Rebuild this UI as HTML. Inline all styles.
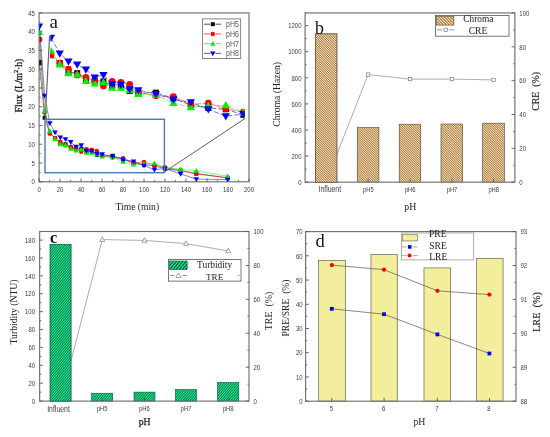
<!DOCTYPE html>
<html lang="en"><head><meta charset="utf-8"><title>Figure</title>
<style>html,body{margin:0;padding:0;background:#fff;}svg{display:block;}</style></head><body>
<svg width="550" height="437" viewBox="0 0 550 437">
<rect width="550" height="437" fill="#ffffff"/>
<defs>
<pattern id="hb" width="1.5" height="1.5" patternUnits="userSpaceOnUse" patternTransform="rotate(-36)"><rect width="1.5" height="1.5" fill="#fbd69c"/><rect width="0.62" height="1.5" fill="#6f4e2e"/></pattern>
<pattern id="hc" width="1.8" height="1.8" patternUnits="userSpaceOnUse" patternTransform="rotate(39.5)"><rect width="1.8" height="1.8" fill="#10e890"/><rect width="0.66" height="1.8" fill="#0a5c3c"/></pattern>
<clipPath id="clipA"><rect x="39.3" y="12.95" width="209.6" height="168.8"/></clipPath>
<clipPath id="clipIn"><rect x="50.3" y="20" width="194.4" height="105"/></clipPath>
</defs>
<rect x="39.1" y="12.95" width="209.9" height="168.8" fill="none" stroke="#888888" stroke-width="1.4"/>
<line x1="39.1" y1="181.75" x2="42.4" y2="181.75" stroke="#5a5a5a" stroke-width="0.9" />
<text transform="translate(34.8,184.45) scale(0.80,1)" font-size="7.5" text-anchor="end" font-family='"Liberation Sans", sans-serif' fill="#3c3c3c" font-weight="normal" >0</text>
<line x1="39.1" y1="172.37" x2="40.7" y2="172.37" stroke="#5a5a5a" stroke-width="0.9" />
<line x1="39.1" y1="162.99" x2="42.4" y2="162.99" stroke="#5a5a5a" stroke-width="0.9" />
<text transform="translate(34.8,165.69) scale(0.80,1)" font-size="7.5" text-anchor="end" font-family='"Liberation Sans", sans-serif' fill="#3c3c3c" font-weight="normal" >5</text>
<line x1="39.1" y1="153.62" x2="40.7" y2="153.62" stroke="#5a5a5a" stroke-width="0.9" />
<line x1="39.1" y1="144.24" x2="42.4" y2="144.24" stroke="#5a5a5a" stroke-width="0.9" />
<text transform="translate(34.8,146.94) scale(0.80,1)" font-size="7.5" text-anchor="end" font-family='"Liberation Sans", sans-serif' fill="#3c3c3c" font-weight="normal" >10</text>
<line x1="39.1" y1="134.86" x2="40.7" y2="134.86" stroke="#5a5a5a" stroke-width="0.9" />
<line x1="39.1" y1="125.48" x2="42.4" y2="125.48" stroke="#5a5a5a" stroke-width="0.9" />
<text transform="translate(34.8,128.18) scale(0.80,1)" font-size="7.5" text-anchor="end" font-family='"Liberation Sans", sans-serif' fill="#3c3c3c" font-weight="normal" >15</text>
<line x1="39.1" y1="116.11" x2="40.7" y2="116.11" stroke="#5a5a5a" stroke-width="0.9" />
<line x1="39.1" y1="106.73" x2="42.4" y2="106.73" stroke="#5a5a5a" stroke-width="0.9" />
<text transform="translate(34.8,109.43) scale(0.80,1)" font-size="7.5" text-anchor="end" font-family='"Liberation Sans", sans-serif' fill="#3c3c3c" font-weight="normal" >20</text>
<line x1="39.1" y1="97.35" x2="40.7" y2="97.35" stroke="#5a5a5a" stroke-width="0.9" />
<line x1="39.1" y1="87.97" x2="42.4" y2="87.97" stroke="#5a5a5a" stroke-width="0.9" />
<text transform="translate(34.8,90.67) scale(0.80,1)" font-size="7.5" text-anchor="end" font-family='"Liberation Sans", sans-serif' fill="#3c3c3c" font-weight="normal" >25</text>
<line x1="39.1" y1="78.59" x2="40.7" y2="78.59" stroke="#5a5a5a" stroke-width="0.9" />
<line x1="39.1" y1="69.22" x2="42.4" y2="69.22" stroke="#5a5a5a" stroke-width="0.9" />
<text transform="translate(34.8,71.92) scale(0.80,1)" font-size="7.5" text-anchor="end" font-family='"Liberation Sans", sans-serif' fill="#3c3c3c" font-weight="normal" >30</text>
<line x1="39.1" y1="59.84" x2="40.7" y2="59.84" stroke="#5a5a5a" stroke-width="0.9" />
<line x1="39.1" y1="50.46" x2="42.4" y2="50.46" stroke="#5a5a5a" stroke-width="0.9" />
<text transform="translate(34.8,53.16) scale(0.80,1)" font-size="7.5" text-anchor="end" font-family='"Liberation Sans", sans-serif' fill="#3c3c3c" font-weight="normal" >35</text>
<line x1="39.1" y1="41.08" x2="40.7" y2="41.08" stroke="#5a5a5a" stroke-width="0.9" />
<line x1="39.1" y1="31.71" x2="42.4" y2="31.71" stroke="#5a5a5a" stroke-width="0.9" />
<text transform="translate(34.8,34.41) scale(0.80,1)" font-size="7.5" text-anchor="end" font-family='"Liberation Sans", sans-serif' fill="#3c3c3c" font-weight="normal" >40</text>
<line x1="39.1" y1="22.33" x2="40.7" y2="22.33" stroke="#5a5a5a" stroke-width="0.9" />
<line x1="39.1" y1="12.95" x2="42.4" y2="12.95" stroke="#5a5a5a" stroke-width="0.9" />
<text transform="translate(34.8,15.65) scale(0.80,1)" font-size="7.5" text-anchor="end" font-family='"Liberation Sans", sans-serif' fill="#3c3c3c" font-weight="normal" >45</text>
<line x1="39.1" y1="181.75" x2="39.1" y2="178.45" stroke="#5a5a5a" stroke-width="0.9" />
<text transform="translate(39.1,191.6) scale(0.80,1)" font-size="7.5" text-anchor="middle" font-family='"Liberation Sans", sans-serif' fill="#3c3c3c" font-weight="normal" >0</text>
<line x1="49.59" y1="181.75" x2="49.59" y2="180.15" stroke="#5a5a5a" stroke-width="0.9" />
<line x1="60.09" y1="181.75" x2="60.09" y2="178.45" stroke="#5a5a5a" stroke-width="0.9" />
<text transform="translate(60.09,191.6) scale(0.80,1)" font-size="7.5" text-anchor="middle" font-family='"Liberation Sans", sans-serif' fill="#3c3c3c" font-weight="normal" >20</text>
<line x1="70.59" y1="181.75" x2="70.59" y2="180.15" stroke="#5a5a5a" stroke-width="0.9" />
<line x1="81.08" y1="181.75" x2="81.08" y2="178.45" stroke="#5a5a5a" stroke-width="0.9" />
<text transform="translate(81.08,191.6) scale(0.80,1)" font-size="7.5" text-anchor="middle" font-family='"Liberation Sans", sans-serif' fill="#3c3c3c" font-weight="normal" >40</text>
<line x1="91.58" y1="181.75" x2="91.58" y2="180.15" stroke="#5a5a5a" stroke-width="0.9" />
<line x1="102.07" y1="181.75" x2="102.07" y2="178.45" stroke="#5a5a5a" stroke-width="0.9" />
<text transform="translate(102.07,191.6) scale(0.80,1)" font-size="7.5" text-anchor="middle" font-family='"Liberation Sans", sans-serif' fill="#3c3c3c" font-weight="normal" >60</text>
<line x1="112.57" y1="181.75" x2="112.57" y2="180.15" stroke="#5a5a5a" stroke-width="0.9" />
<line x1="123.06" y1="181.75" x2="123.06" y2="178.45" stroke="#5a5a5a" stroke-width="0.9" />
<text transform="translate(123.06,191.6) scale(0.80,1)" font-size="7.5" text-anchor="middle" font-family='"Liberation Sans", sans-serif' fill="#3c3c3c" font-weight="normal" >80</text>
<line x1="133.56" y1="181.75" x2="133.56" y2="180.15" stroke="#5a5a5a" stroke-width="0.9" />
<line x1="144.05" y1="181.75" x2="144.05" y2="178.45" stroke="#5a5a5a" stroke-width="0.9" />
<text transform="translate(144.05,191.6) scale(0.80,1)" font-size="7.5" text-anchor="middle" font-family='"Liberation Sans", sans-serif' fill="#3c3c3c" font-weight="normal" >100</text>
<line x1="154.55" y1="181.75" x2="154.55" y2="180.15" stroke="#5a5a5a" stroke-width="0.9" />
<line x1="165.04" y1="181.75" x2="165.04" y2="178.45" stroke="#5a5a5a" stroke-width="0.9" />
<text transform="translate(165.04,191.6) scale(0.80,1)" font-size="7.5" text-anchor="middle" font-family='"Liberation Sans", sans-serif' fill="#3c3c3c" font-weight="normal" >120</text>
<line x1="175.54" y1="181.75" x2="175.54" y2="180.15" stroke="#5a5a5a" stroke-width="0.9" />
<line x1="186.03" y1="181.75" x2="186.03" y2="178.45" stroke="#5a5a5a" stroke-width="0.9" />
<text transform="translate(186.03,191.6) scale(0.80,1)" font-size="7.5" text-anchor="middle" font-family='"Liberation Sans", sans-serif' fill="#3c3c3c" font-weight="normal" >140</text>
<line x1="196.53" y1="181.75" x2="196.53" y2="180.15" stroke="#5a5a5a" stroke-width="0.9" />
<line x1="207.02" y1="181.75" x2="207.02" y2="178.45" stroke="#5a5a5a" stroke-width="0.9" />
<text transform="translate(207.02,191.6) scale(0.80,1)" font-size="7.5" text-anchor="middle" font-family='"Liberation Sans", sans-serif' fill="#3c3c3c" font-weight="normal" >160</text>
<line x1="217.52" y1="181.75" x2="217.52" y2="180.15" stroke="#5a5a5a" stroke-width="0.9" />
<line x1="228.01" y1="181.75" x2="228.01" y2="178.45" stroke="#5a5a5a" stroke-width="0.9" />
<text transform="translate(228.01,191.6) scale(0.80,1)" font-size="7.5" text-anchor="middle" font-family='"Liberation Sans", sans-serif' fill="#3c3c3c" font-weight="normal" >180</text>
<line x1="238.51" y1="181.75" x2="238.51" y2="180.15" stroke="#5a5a5a" stroke-width="0.9" />
<line x1="249" y1="181.75" x2="249" y2="178.45" stroke="#5a5a5a" stroke-width="0.9" />
<text transform="translate(249,191.6) scale(0.80,1)" font-size="7.5" text-anchor="middle" font-family='"Liberation Sans", sans-serif' fill="#3c3c3c" font-weight="normal" >200</text>
<text x="137.3" y="210.2" font-size="9.6" text-anchor="middle" font-family='"Liberation Serif", serif' fill="#222" font-weight="normal" >Time (min)</text>
<text transform="translate(21.6,85.6) rotate(-90)" font-size="9.7" text-anchor="middle" font-family='"Liberation Serif", serif' fill="#222" font-weight="normal" stroke="#222" stroke-width="0.3">Flux (L/m<tspan font-size="5.6" dy="-3.4">2</tspan><tspan dy="3.4">·h)</tspan></text>
<text x="49.5" y="27.7" font-size="19" text-anchor="start" font-family='"Liberation Serif", serif' fill="#111" font-weight="normal" >a</text>
<g clip-path="url(#clipA)">
<polyline fill="none" stroke="#000000" stroke-width="0.5" points="39.4,62.6 44.63,117.8 49.86,133.25 55.09,138.22 60.32,143.72 65.55,144.26 70.78,147.69 76.01,148.58 81.24,149.11 86.47,151.83 91.7,151.54 96.93,154.85 102.16,155.98 112.62,155.74 123.08,159.23 133.54,163.08 144,164.86 154.46,165.63 164.92,168.88 180.61,170.5 196.3,173.5 227.68,177.9"/>
<rect x="36.71" y="59.91" width="5.38" height="5.38" fill="#000000"/>
<rect x="42.66" y="115.83" width="3.95" height="3.95" fill="#000000"/>
<rect x="47.89" y="131.27" width="3.95" height="3.95" fill="#000000"/>
<rect x="53.12" y="136.24" width="3.95" height="3.95" fill="#000000"/>
<rect x="58.35" y="141.75" width="3.95" height="3.95" fill="#000000"/>
<rect x="63.58" y="142.28" width="3.95" height="3.95" fill="#000000"/>
<rect x="68.81" y="145.72" width="3.95" height="3.95" fill="#000000"/>
<rect x="74.04" y="146.6" width="3.95" height="3.95" fill="#000000"/>
<rect x="79.27" y="147.14" width="3.95" height="3.95" fill="#000000"/>
<rect x="84.5" y="149.86" width="3.95" height="3.95" fill="#000000"/>
<rect x="89.73" y="149.56" width="3.95" height="3.95" fill="#000000"/>
<rect x="94.96" y="152.88" width="3.95" height="3.95" fill="#000000"/>
<rect x="100.19" y="154" width="3.95" height="3.95" fill="#000000"/>
<rect x="110.65" y="153.77" width="3.95" height="3.95" fill="#000000"/>
<rect x="121.11" y="157.26" width="3.95" height="3.95" fill="#000000"/>
<rect x="131.57" y="161.11" width="3.95" height="3.95" fill="#000000"/>
<rect x="142.03" y="162.88" width="3.95" height="3.95" fill="#000000"/>
<rect x="152.49" y="163.65" width="3.95" height="3.95" fill="#000000"/>
<rect x="162.95" y="166.91" width="3.95" height="3.95" fill="#000000"/>
<rect x="178.64" y="168.53" width="3.95" height="3.95" fill="#000000"/>
<rect x="194.33" y="171.53" width="3.95" height="3.95" fill="#000000"/>
<rect x="225.71" y="175.93" width="3.95" height="3.95" fill="#000000"/>
<polyline fill="none" stroke="#ff0000" stroke-width="0.5" points="39.4,39.6 44.63,112.5 49.86,133.6 55.09,138.22 60.32,141.77 65.55,145.32 70.78,146.74 76.01,149.11 81.24,151.83 86.47,149.11 91.7,149.64 96.93,150.89 102.16,155.74 112.62,157.58 123.08,158.11 133.54,162.73 144,162.02 154.46,165.21 164.92,167.23 180.61,170.8 196.3,173.9 227.68,177.9"/>
<circle cx="39.4" cy="39.6" r="3.01" fill="#ff0000"/>
<circle cx="44.63" cy="112.5" r="2.21" fill="#ff0000"/>
<circle cx="49.86" cy="133.6" r="2.21" fill="#ff0000"/>
<circle cx="55.09" cy="138.22" r="2.21" fill="#ff0000"/>
<circle cx="60.32" cy="141.77" r="2.21" fill="#ff0000"/>
<circle cx="65.55" cy="145.32" r="2.21" fill="#ff0000"/>
<circle cx="70.78" cy="146.74" r="2.21" fill="#ff0000"/>
<circle cx="76.01" cy="149.11" r="2.21" fill="#ff0000"/>
<circle cx="81.24" cy="151.83" r="2.21" fill="#ff0000"/>
<circle cx="86.47" cy="149.11" r="2.21" fill="#ff0000"/>
<circle cx="91.7" cy="149.64" r="2.21" fill="#ff0000"/>
<circle cx="96.93" cy="150.89" r="2.21" fill="#ff0000"/>
<circle cx="102.16" cy="155.74" r="2.21" fill="#ff0000"/>
<circle cx="112.62" cy="157.58" r="2.21" fill="#ff0000"/>
<circle cx="123.08" cy="158.11" r="2.21" fill="#ff0000"/>
<circle cx="133.54" cy="162.73" r="2.21" fill="#ff0000"/>
<circle cx="144" cy="162.02" r="2.21" fill="#ff0000"/>
<circle cx="154.46" cy="165.21" r="2.21" fill="#ff0000"/>
<circle cx="164.92" cy="167.23" r="2.21" fill="#ff0000"/>
<circle cx="180.61" cy="170.8" r="2.21" fill="#ff0000"/>
<circle cx="196.3" cy="173.9" r="2.21" fill="#ff0000"/>
<circle cx="227.68" cy="177.9" r="2.21" fill="#ff0000"/>
<polyline fill="none" stroke="#00ee00" stroke-width="0.5" points="39.4,32.3 44.63,111.4 49.86,131.17 55.09,139.05 60.32,144.26 65.55,145.03 70.78,148.87 76.01,150.41 81.24,149.64 86.47,152.9 91.7,152.9 96.93,154.32 102.16,156.51 112.62,157.22 123.08,161.9 133.54,164.44 144,163.62 154.46,163.2 164.92,167.7 180.61,169.2 196.3,170.8 227.68,176.3"/>
<path d="M35.69 34.99L43.11 34.99L39.4 28.46Z" fill="#00ee00"/>
<path d="M41.9 113.37L47.36 113.37L44.63 108.58Z" fill="#00ee00"/>
<path d="M47.13 133.15L52.59 133.15L49.86 128.35Z" fill="#00ee00"/>
<path d="M52.36 141.02L57.82 141.02L55.09 136.23Z" fill="#00ee00"/>
<path d="M57.59 146.23L63.05 146.23L60.32 141.44Z" fill="#00ee00"/>
<path d="M62.82 147L68.28 147L65.55 142.21Z" fill="#00ee00"/>
<path d="M68.05 150.85L73.51 150.85L70.78 146.05Z" fill="#00ee00"/>
<path d="M73.28 152.39L78.74 152.39L76.01 147.59Z" fill="#00ee00"/>
<path d="M78.51 151.62L83.97 151.62L81.24 146.82Z" fill="#00ee00"/>
<path d="M83.74 154.87L89.2 154.87L86.47 150.08Z" fill="#00ee00"/>
<path d="M88.97 154.87L94.43 154.87L91.7 150.08Z" fill="#00ee00"/>
<path d="M94.2 156.29L99.66 156.29L96.93 151.5Z" fill="#00ee00"/>
<path d="M99.43 158.49L104.89 158.49L102.16 153.69Z" fill="#00ee00"/>
<path d="M109.89 159.2L115.35 159.2L112.62 154.4Z" fill="#00ee00"/>
<path d="M120.35 163.87L125.81 163.87L123.08 159.08Z" fill="#00ee00"/>
<path d="M130.81 166.42L136.27 166.42L133.54 161.62Z" fill="#00ee00"/>
<path d="M141.27 165.59L146.73 165.59L144 160.8Z" fill="#00ee00"/>
<path d="M151.73 165.17L157.19 165.17L154.46 160.38Z" fill="#00ee00"/>
<path d="M162.19 169.67L167.65 169.67L164.92 164.88Z" fill="#00ee00"/>
<path d="M177.88 171.17L183.34 171.17L180.61 166.38Z" fill="#00ee00"/>
<path d="M193.57 172.77L199.03 172.77L196.3 167.98Z" fill="#00ee00"/>
<path d="M224.95 178.27L230.41 178.27L227.68 173.48Z" fill="#00ee00"/>
<polyline fill="none" stroke="#0000ff" stroke-width="0.5" points="39.4,26.3 44.63,95.6 49.86,123.3 55.09,132.54 60.32,137.39 65.55,139.17 70.78,142.07 76.01,146.74 81.24,145.32 86.47,150.77 91.7,151.06 96.93,153.79 102.16,154.32 112.62,156.51 123.08,159.77 133.54,161.42 144,165.63 154.46,169.71 164.92,168.47 180.61,173.9 196.3,179.1 227.68,179.6"/>
<path d="M35.69 23.61L43.11 23.61L39.4 30.14Z" fill="#0000ff"/>
<path d="M41.9 93.63L47.36 93.63L44.63 98.42Z" fill="#0000ff"/>
<path d="M47.13 121.33L52.59 121.33L49.86 126.12Z" fill="#0000ff"/>
<path d="M52.36 130.56L57.82 130.56L55.09 135.36Z" fill="#0000ff"/>
<path d="M57.59 135.42L63.05 135.42L60.32 140.21Z" fill="#0000ff"/>
<path d="M62.82 137.19L68.28 137.19L65.55 141.99Z" fill="#0000ff"/>
<path d="M68.05 140.09L73.51 140.09L70.78 144.89Z" fill="#0000ff"/>
<path d="M73.28 144.77L78.74 144.77L76.01 149.56Z" fill="#0000ff"/>
<path d="M78.51 143.35L83.97 143.35L81.24 148.14Z" fill="#0000ff"/>
<path d="M83.74 148.79L89.2 148.79L86.47 153.59Z" fill="#0000ff"/>
<path d="M88.97 149.09L94.43 149.09L91.7 153.88Z" fill="#0000ff"/>
<path d="M94.2 151.81L99.66 151.81L96.93 156.61Z" fill="#0000ff"/>
<path d="M99.43 152.35L104.89 152.35L102.16 157.14Z" fill="#0000ff"/>
<path d="M109.89 154.54L115.35 154.54L112.62 159.33Z" fill="#0000ff"/>
<path d="M120.35 157.79L125.81 157.79L123.08 162.59Z" fill="#0000ff"/>
<path d="M130.81 159.45L136.27 159.45L133.54 164.24Z" fill="#0000ff"/>
<path d="M141.27 163.65L146.73 163.65L144 168.45Z" fill="#0000ff"/>
<path d="M151.73 167.74L157.19 167.74L154.46 172.53Z" fill="#0000ff"/>
<path d="M162.19 166.5L167.65 166.5L164.92 171.29Z" fill="#0000ff"/>
<path d="M177.88 171.93L183.34 171.93L180.61 176.72Z" fill="#0000ff"/>
<path d="M193.57 177.13L199.03 177.13L196.3 181.92Z" fill="#0000ff"/>
<path d="M224.95 177.63L230.41 177.63L227.68 182.42Z" fill="#0000ff"/>
</g>
<g clip-path="url(#clipIn)">
<polyline fill="none" stroke="#000000" stroke-width="0.55" stroke-dasharray="5 2" points="51,54.6 59.74,63 68.48,72.3 77.22,73.2 85.96,79 94.7,80.5 103.44,81.4 112.18,86 120.92,85.5 129.66,91.1 138.4,93 155.88,92.6 173.36,98.5 190.84,105 208.32,108 225.8,109.3 243.28,114.8 269.5,117.53"/>
<rect x="48.02" y="51.62" width="5.96" height="5.96" fill="#000000"/>
<rect x="56.76" y="60.02" width="5.96" height="5.96" fill="#000000"/>
<rect x="65.5" y="69.32" width="5.96" height="5.96" fill="#000000"/>
<rect x="74.24" y="70.22" width="5.96" height="5.96" fill="#000000"/>
<rect x="82.98" y="76.02" width="5.96" height="5.96" fill="#000000"/>
<rect x="91.72" y="77.52" width="5.96" height="5.96" fill="#000000"/>
<rect x="100.46" y="78.42" width="5.96" height="5.96" fill="#000000"/>
<rect x="109.2" y="83.02" width="5.96" height="5.96" fill="#000000"/>
<rect x="117.94" y="82.52" width="5.96" height="5.96" fill="#000000"/>
<rect x="126.68" y="88.12" width="5.96" height="5.96" fill="#000000"/>
<rect x="135.42" y="90.02" width="5.96" height="5.96" fill="#000000"/>
<rect x="152.9" y="89.62" width="5.96" height="5.96" fill="#000000"/>
<rect x="170.38" y="95.52" width="5.96" height="5.96" fill="#000000"/>
<rect x="187.86" y="102.02" width="5.96" height="5.96" fill="#000000"/>
<rect x="205.34" y="105.02" width="5.96" height="5.96" fill="#000000"/>
<rect x="222.82" y="106.32" width="5.96" height="5.96" fill="#000000"/>
<rect x="240.3" y="111.82" width="5.96" height="5.96" fill="#000000"/>
<rect x="266.52" y="114.55" width="5.96" height="5.96" fill="#000000"/>
<polyline fill="none" stroke="#ff0000" stroke-width="0.55" stroke-dasharray="5 2" points="51,55.2 59.74,63 68.48,69 77.22,75 85.96,77.4 94.7,81.4 103.44,86 112.18,81.4 120.92,82.3 129.66,84.4 138.4,92.6 155.88,95.7 173.36,96.6 190.84,104.4 208.32,103.2 225.8,108.6 243.28,112 269.5,118.04"/>
<circle cx="51" cy="55.2" r="3.34" fill="#ff0000"/>
<circle cx="59.74" cy="63" r="3.34" fill="#ff0000"/>
<circle cx="68.48" cy="69" r="3.34" fill="#ff0000"/>
<circle cx="77.22" cy="75" r="3.34" fill="#ff0000"/>
<circle cx="85.96" cy="77.4" r="3.34" fill="#ff0000"/>
<circle cx="94.7" cy="81.4" r="3.34" fill="#ff0000"/>
<circle cx="103.44" cy="86" r="3.34" fill="#ff0000"/>
<circle cx="112.18" cy="81.4" r="3.34" fill="#ff0000"/>
<circle cx="120.92" cy="82.3" r="3.34" fill="#ff0000"/>
<circle cx="129.66" cy="84.4" r="3.34" fill="#ff0000"/>
<circle cx="138.4" cy="92.6" r="3.34" fill="#ff0000"/>
<circle cx="155.88" cy="95.7" r="3.34" fill="#ff0000"/>
<circle cx="173.36" cy="96.6" r="3.34" fill="#ff0000"/>
<circle cx="190.84" cy="104.4" r="3.34" fill="#ff0000"/>
<circle cx="208.32" cy="103.2" r="3.34" fill="#ff0000"/>
<circle cx="225.8" cy="108.6" r="3.34" fill="#ff0000"/>
<circle cx="243.28" cy="112" r="3.34" fill="#ff0000"/>
<circle cx="269.5" cy="118.04" r="3.34" fill="#ff0000"/>
<polyline fill="none" stroke="#00ee00" stroke-width="0.55" stroke-dasharray="5 2" points="51,51.1 59.74,64.4 68.48,73.2 77.22,74.5 85.96,81 94.7,83.6 103.44,82.3 112.18,87.8 120.92,87.8 129.66,90.2 138.4,93.9 155.88,95.1 173.36,103 190.84,107.3 208.32,105.9 225.8,105.2 243.28,112.8 269.5,115.33"/>
<path d="M46.88 54.08L55.12 54.08L51 46.84Z" fill="#00ee00"/>
<path d="M55.62 67.38L63.86 67.38L59.74 60.14Z" fill="#00ee00"/>
<path d="M64.36 76.18L72.6 76.18L68.48 68.94Z" fill="#00ee00"/>
<path d="M73.1 77.48L81.34 77.48L77.22 70.24Z" fill="#00ee00"/>
<path d="M81.84 83.98L90.08 83.98L85.96 76.74Z" fill="#00ee00"/>
<path d="M90.58 86.58L98.82 86.58L94.7 79.34Z" fill="#00ee00"/>
<path d="M99.32 85.28L107.56 85.28L103.44 78.04Z" fill="#00ee00"/>
<path d="M108.06 90.78L116.3 90.78L112.18 83.54Z" fill="#00ee00"/>
<path d="M116.8 90.78L125.04 90.78L120.92 83.54Z" fill="#00ee00"/>
<path d="M125.54 93.18L133.78 93.18L129.66 85.94Z" fill="#00ee00"/>
<path d="M134.28 96.88L142.52 96.88L138.4 89.64Z" fill="#00ee00"/>
<path d="M151.76 98.08L160 98.08L155.88 90.84Z" fill="#00ee00"/>
<path d="M169.24 105.98L177.48 105.98L173.36 98.74Z" fill="#00ee00"/>
<path d="M186.72 110.28L194.96 110.28L190.84 103.04Z" fill="#00ee00"/>
<path d="M204.2 108.88L212.44 108.88L208.32 101.64Z" fill="#00ee00"/>
<path d="M221.68 108.18L229.92 108.18L225.8 100.94Z" fill="#00ee00"/>
<path d="M239.16 115.78L247.4 115.78L243.28 108.54Z" fill="#00ee00"/>
<path d="M265.38 118.32L273.62 118.32L269.5 111.07Z" fill="#00ee00"/>
<polyline fill="none" stroke="#0000ff" stroke-width="0.55" stroke-dasharray="5 2" points="51,37.8 59.74,53.4 68.48,61.6 77.22,64.6 85.96,69.5 94.7,77.4 103.44,75 112.18,84.2 120.92,84.7 129.66,89.3 138.4,90.2 155.88,93.9 173.36,99.4 190.84,102.2 208.32,109.3 225.8,116.2 243.28,114.1 269.5,123.27"/>
<path d="M46.88 34.82L55.12 34.82L51 42.06Z" fill="#0000ff"/>
<path d="M55.62 50.42L63.86 50.42L59.74 57.66Z" fill="#0000ff"/>
<path d="M64.36 58.62L72.6 58.62L68.48 65.86Z" fill="#0000ff"/>
<path d="M73.1 61.62L81.34 61.62L77.22 68.86Z" fill="#0000ff"/>
<path d="M81.84 66.52L90.08 66.52L85.96 73.76Z" fill="#0000ff"/>
<path d="M90.58 74.42L98.82 74.42L94.7 81.66Z" fill="#0000ff"/>
<path d="M99.32 72.02L107.56 72.02L103.44 79.26Z" fill="#0000ff"/>
<path d="M108.06 81.22L116.3 81.22L112.18 88.46Z" fill="#0000ff"/>
<path d="M116.8 81.72L125.04 81.72L120.92 88.96Z" fill="#0000ff"/>
<path d="M125.54 86.32L133.78 86.32L129.66 93.56Z" fill="#0000ff"/>
<path d="M134.28 87.22L142.52 87.22L138.4 94.46Z" fill="#0000ff"/>
<path d="M151.76 90.92L160 90.92L155.88 98.16Z" fill="#0000ff"/>
<path d="M169.24 96.42L177.48 96.42L173.36 103.66Z" fill="#0000ff"/>
<path d="M186.72 99.22L194.96 99.22L190.84 106.46Z" fill="#0000ff"/>
<path d="M204.2 106.32L212.44 106.32L208.32 113.56Z" fill="#0000ff"/>
<path d="M221.68 113.22L229.92 113.22L225.8 120.46Z" fill="#0000ff"/>
<path d="M239.16 111.12L247.4 111.12L243.28 118.36Z" fill="#0000ff"/>
<path d="M265.38 120.29L273.62 120.29L269.5 127.53Z" fill="#0000ff"/>
</g>
<rect x="45.0" y="119.3" width="119.4" height="53.4" fill="none" stroke="#5274b2" stroke-width="1.4"/>
<line x1="45.2" y1="119.3" x2="49.6" y2="35.5" stroke="#666666" stroke-width="1.2" />
<line x1="165" y1="171.6" x2="245.3" y2="118.3" stroke="#4d4d4d" stroke-width="0.9" />
<rect x="202.5" y="18.9" width="38.2" height="39.5" fill="#fff" stroke="#666" stroke-width="0.8"/>
<line x1="204.1" y1="24.2" x2="210.2" y2="24.2" stroke="#000000" stroke-width="0.7" />
<line x1="215.5" y1="24.2" x2="221" y2="24.2" stroke="#000000" stroke-width="0.7" />
<rect x="210.83" y="22.23" width="3.95" height="3.95" fill="#000000"/>
<text transform="translate(226,27.2) scale(0.80,1)" font-size="8.75" text-anchor="start" font-family='"Liberation Sans", sans-serif' fill="#555" font-weight="normal" >pH5</text>
<line x1="204.1" y1="33.93" x2="210.2" y2="33.93" stroke="#ff0000" stroke-width="0.7" />
<line x1="215.5" y1="33.93" x2="221" y2="33.93" stroke="#ff0000" stroke-width="0.7" />
<circle cx="212.8" cy="33.93" r="2.21" fill="#ff0000"/>
<text transform="translate(226,36.93) scale(0.80,1)" font-size="8.75" text-anchor="start" font-family='"Liberation Sans", sans-serif' fill="#555" font-weight="normal" >pH6</text>
<line x1="204.1" y1="43.66" x2="210.2" y2="43.66" stroke="#00ee00" stroke-width="0.7" />
<line x1="215.5" y1="43.66" x2="221" y2="43.66" stroke="#00ee00" stroke-width="0.7" />
<path d="M210.07 45.63L215.53 45.63L212.8 40.84Z" fill="#00ee00"/>
<text transform="translate(226,46.66) scale(0.80,1)" font-size="8.75" text-anchor="start" font-family='"Liberation Sans", sans-serif' fill="#555" font-weight="normal" >pH7</text>
<line x1="204.1" y1="53.39" x2="210.2" y2="53.39" stroke="#0000ff" stroke-width="0.7" />
<line x1="215.5" y1="53.39" x2="221" y2="53.39" stroke="#0000ff" stroke-width="0.7" />
<path d="M210.07 51.42L215.53 51.42L212.8 56.21Z" fill="#0000ff"/>
<text transform="translate(226,56.39) scale(0.80,1)" font-size="8.75" text-anchor="start" font-family='"Liberation Sans", sans-serif' fill="#555" font-weight="normal" >pH8</text>
<clipPath id="hc1"><rect x="315.4" y="33.9" width="21.5" height="148.3"/></clipPath>
<rect x="315.4" y="33.9" width="21.5" height="148.3" fill="#ffdca3"/>
<path clip-path="url(#hc1)" d="M165.6 33.9L313.9 182.2M167.9 33.9L316.2 182.2M170.2 33.9L318.5 182.2M172.5 33.9L320.8 182.2M174.8 33.9L323.1 182.2M177.1 33.9L325.4 182.2M179.4 33.9L327.7 182.2M181.7 33.9L330 182.2M184 33.9L332.3 182.2M186.3 33.9L334.6 182.2M188.6 33.9L336.9 182.2M190.9 33.9L339.2 182.2M193.2 33.9L341.5 182.2M195.5 33.9L343.8 182.2M197.8 33.9L346.1 182.2M200.1 33.9L348.4 182.2M202.4 33.9L350.7 182.2M204.7 33.9L353 182.2M207 33.9L355.3 182.2M209.3 33.9L357.6 182.2M211.6 33.9L359.9 182.2M213.9 33.9L362.2 182.2M216.2 33.9L364.5 182.2M218.5 33.9L366.8 182.2M220.8 33.9L369.1 182.2M223.1 33.9L371.4 182.2M225.4 33.9L373.7 182.2M227.7 33.9L376 182.2M230 33.9L378.3 182.2M232.3 33.9L380.6 182.2M234.6 33.9L382.9 182.2M236.9 33.9L385.2 182.2M239.2 33.9L387.5 182.2M241.5 33.9L389.8 182.2M243.8 33.9L392.1 182.2M246.1 33.9L394.4 182.2M248.4 33.9L396.7 182.2M250.7 33.9L399 182.2M253 33.9L401.3 182.2M255.3 33.9L403.6 182.2M257.6 33.9L405.9 182.2M259.9 33.9L408.2 182.2M262.2 33.9L410.5 182.2M264.5 33.9L412.8 182.2M266.8 33.9L415.1 182.2M269.1 33.9L417.4 182.2M271.4 33.9L419.7 182.2M273.7 33.9L422 182.2M276 33.9L424.3 182.2M278.3 33.9L426.6 182.2M280.6 33.9L428.9 182.2M282.9 33.9L431.2 182.2M285.2 33.9L433.5 182.2M287.5 33.9L435.8 182.2M289.8 33.9L438.1 182.2M292.1 33.9L440.4 182.2M294.4 33.9L442.7 182.2M296.7 33.9L445 182.2M299 33.9L447.3 182.2M301.3 33.9L449.6 182.2M303.6 33.9L451.9 182.2M305.9 33.9L454.2 182.2M308.2 33.9L456.5 182.2M310.5 33.9L458.8 182.2M312.8 33.9L461.1 182.2M315.1 33.9L463.4 182.2M317.4 33.9L465.7 182.2M319.7 33.9L468 182.2M322 33.9L470.3 182.2M324.3 33.9L472.6 182.2M326.6 33.9L474.9 182.2M328.9 33.9L477.2 182.2M331.2 33.9L479.5 182.2M333.5 33.9L481.8 182.2M335.8 33.9L484.1 182.2M338.1 33.9L486.4 182.2" stroke="#64442a" stroke-width="0.71" fill="none"/>
<rect x="315.4" y="33.9" width="21.5" height="148.3" fill="none" stroke="#4e3c2a" stroke-width="0.6"/>
<clipPath id="hc2"><rect x="357.3" y="127.5" width="21.6" height="54.7"/></clipPath>
<rect x="357.3" y="127.5" width="21.6" height="54.7" fill="#ffdca3"/>
<path clip-path="url(#hc2)" d="M301.3 127.5L356 182.2M303.6 127.5L358.3 182.2M305.9 127.5L360.6 182.2M308.2 127.5L362.9 182.2M310.5 127.5L365.2 182.2M312.8 127.5L367.5 182.2M315.1 127.5L369.8 182.2M317.4 127.5L372.1 182.2M319.7 127.5L374.4 182.2M322 127.5L376.7 182.2M324.3 127.5L379 182.2M326.6 127.5L381.3 182.2M328.9 127.5L383.6 182.2M331.2 127.5L385.9 182.2M333.5 127.5L388.2 182.2M335.8 127.5L390.5 182.2M338.1 127.5L392.8 182.2M340.4 127.5L395.1 182.2M342.7 127.5L397.4 182.2M345 127.5L399.7 182.2M347.3 127.5L402 182.2M349.6 127.5L404.3 182.2M351.9 127.5L406.6 182.2M354.2 127.5L408.9 182.2M356.5 127.5L411.2 182.2M358.8 127.5L413.5 182.2M361.1 127.5L415.8 182.2M363.4 127.5L418.1 182.2M365.7 127.5L420.4 182.2M368 127.5L422.7 182.2M370.3 127.5L425 182.2M372.6 127.5L427.3 182.2M374.9 127.5L429.6 182.2M377.2 127.5L431.9 182.2M379.5 127.5L434.2 182.2" stroke="#64442a" stroke-width="0.71" fill="none"/>
<rect x="357.3" y="127.5" width="21.6" height="54.7" fill="none" stroke="#4e3c2a" stroke-width="0.6"/>
<clipPath id="hc3"><rect x="399.2" y="124.2" width="21.4" height="58"/></clipPath>
<rect x="399.2" y="124.2" width="21.4" height="58" fill="#ffdca3"/>
<path clip-path="url(#hc3)" d="M340.4 124.2L398.4 182.2M342.7 124.2L400.7 182.2M345 124.2L403 182.2M347.3 124.2L405.3 182.2M349.6 124.2L407.6 182.2M351.9 124.2L409.9 182.2M354.2 124.2L412.2 182.2M356.5 124.2L414.5 182.2M358.8 124.2L416.8 182.2M361.1 124.2L419.1 182.2M363.4 124.2L421.4 182.2M365.7 124.2L423.7 182.2M368 124.2L426 182.2M370.3 124.2L428.3 182.2M372.6 124.2L430.6 182.2M374.9 124.2L432.9 182.2M377.2 124.2L435.2 182.2M379.5 124.2L437.5 182.2M381.8 124.2L439.8 182.2M384.1 124.2L442.1 182.2M386.4 124.2L444.4 182.2M388.7 124.2L446.7 182.2M391 124.2L449 182.2M393.3 124.2L451.3 182.2M395.6 124.2L453.6 182.2M397.9 124.2L455.9 182.2M400.2 124.2L458.2 182.2M402.5 124.2L460.5 182.2M404.8 124.2L462.8 182.2M407.1 124.2L465.1 182.2M409.4 124.2L467.4 182.2M411.7 124.2L469.7 182.2M414 124.2L472 182.2M416.3 124.2L474.3 182.2M418.6 124.2L476.6 182.2M420.9 124.2L478.9 182.2" stroke="#64442a" stroke-width="0.71" fill="none"/>
<rect x="399.2" y="124.2" width="21.4" height="58" fill="none" stroke="#4e3c2a" stroke-width="0.6"/>
<clipPath id="hc4"><rect x="441" y="124" width="21.6" height="58.2"/></clipPath>
<rect x="441" y="124" width="21.6" height="58.2" fill="#ffdca3"/>
<path clip-path="url(#hc4)" d="M381.8 124L440 182.2M384.1 124L442.3 182.2M386.4 124L444.6 182.2M388.7 124L446.9 182.2M391 124L449.2 182.2M393.3 124L451.5 182.2M395.6 124L453.8 182.2M397.9 124L456.1 182.2M400.2 124L458.4 182.2M402.5 124L460.7 182.2M404.8 124L463 182.2M407.1 124L465.3 182.2M409.4 124L467.6 182.2M411.7 124L469.9 182.2M414 124L472.2 182.2M416.3 124L474.5 182.2M418.6 124L476.8 182.2M420.9 124L479.1 182.2M423.2 124L481.4 182.2M425.5 124L483.7 182.2M427.8 124L486 182.2M430.1 124L488.3 182.2M432.4 124L490.6 182.2M434.7 124L492.9 182.2M437 124L495.2 182.2M439.3 124L497.5 182.2M441.6 124L499.8 182.2M443.9 124L502.1 182.2M446.2 124L504.4 182.2M448.5 124L506.7 182.2M450.8 124L509 182.2M453.1 124L511.3 182.2M455.4 124L513.6 182.2M457.7 124L515.9 182.2M460 124L518.2 182.2M462.3 124L520.5 182.2M464.6 124L522.8 182.2" stroke="#64442a" stroke-width="0.71" fill="none"/>
<rect x="441" y="124" width="21.6" height="58.2" fill="none" stroke="#4e3c2a" stroke-width="0.6"/>
<clipPath id="hc5"><rect x="482.7" y="123.2" width="21.6" height="59"/></clipPath>
<rect x="482.7" y="123.2" width="21.6" height="59" fill="#ffdca3"/>
<path clip-path="url(#hc5)" d="M423.2 123.2L482.2 182.2M425.5 123.2L484.5 182.2M427.8 123.2L486.8 182.2M430.1 123.2L489.1 182.2M432.4 123.2L491.4 182.2M434.7 123.2L493.7 182.2M437 123.2L496 182.2M439.3 123.2L498.3 182.2M441.6 123.2L500.6 182.2M443.9 123.2L502.9 182.2M446.2 123.2L505.2 182.2M448.5 123.2L507.5 182.2M450.8 123.2L509.8 182.2M453.1 123.2L512.1 182.2M455.4 123.2L514.4 182.2M457.7 123.2L516.7 182.2M460 123.2L519 182.2M462.3 123.2L521.3 182.2M464.6 123.2L523.6 182.2M466.9 123.2L525.9 182.2M469.2 123.2L528.2 182.2M471.5 123.2L530.5 182.2M473.8 123.2L532.8 182.2M476.1 123.2L535.1 182.2M478.4 123.2L537.4 182.2M480.7 123.2L539.7 182.2M483 123.2L542 182.2M485.3 123.2L544.3 182.2M487.6 123.2L546.6 182.2M489.9 123.2L548.9 182.2M492.2 123.2L551.2 182.2M494.5 123.2L553.5 182.2M496.8 123.2L555.8 182.2M499.1 123.2L558.1 182.2M501.4 123.2L560.4 182.2M503.7 123.2L562.7 182.2M506 123.2L565 182.2" stroke="#64442a" stroke-width="0.71" fill="none"/>
<rect x="482.7" y="123.2" width="21.6" height="59" fill="none" stroke="#4e3c2a" stroke-width="0.6"/>
<rect x="305.1" y="12.95" width="209.75" height="169.25" fill="none" stroke="#888888" stroke-width="1.4"/>
<line x1="305.1" y1="182.2" x2="308.4" y2="182.2" stroke="#5a5a5a" stroke-width="0.9" />
<text transform="translate(301.5,184.9) scale(0.80,1)" font-size="7.5" text-anchor="end" font-family='"Liberation Sans", sans-serif' fill="#3c3c3c" font-weight="normal" >0</text>
<line x1="305.1" y1="169.15" x2="306.7" y2="169.15" stroke="#5a5a5a" stroke-width="0.9" />
<line x1="305.1" y1="156.1" x2="308.4" y2="156.1" stroke="#5a5a5a" stroke-width="0.9" />
<text transform="translate(301.5,158.8) scale(0.80,1)" font-size="7.5" text-anchor="end" font-family='"Liberation Sans", sans-serif' fill="#3c3c3c" font-weight="normal" >200</text>
<line x1="305.1" y1="143.05" x2="306.7" y2="143.05" stroke="#5a5a5a" stroke-width="0.9" />
<line x1="305.1" y1="130" x2="308.4" y2="130" stroke="#5a5a5a" stroke-width="0.9" />
<text transform="translate(301.5,132.7) scale(0.80,1)" font-size="7.5" text-anchor="end" font-family='"Liberation Sans", sans-serif' fill="#3c3c3c" font-weight="normal" >400</text>
<line x1="305.1" y1="116.95" x2="306.7" y2="116.95" stroke="#5a5a5a" stroke-width="0.9" />
<line x1="305.1" y1="103.9" x2="308.4" y2="103.9" stroke="#5a5a5a" stroke-width="0.9" />
<text transform="translate(301.5,106.6) scale(0.80,1)" font-size="7.5" text-anchor="end" font-family='"Liberation Sans", sans-serif' fill="#3c3c3c" font-weight="normal" >600</text>
<line x1="305.1" y1="90.85" x2="306.7" y2="90.85" stroke="#5a5a5a" stroke-width="0.9" />
<line x1="305.1" y1="77.8" x2="308.4" y2="77.8" stroke="#5a5a5a" stroke-width="0.9" />
<text transform="translate(301.5,80.5) scale(0.80,1)" font-size="7.5" text-anchor="end" font-family='"Liberation Sans", sans-serif' fill="#3c3c3c" font-weight="normal" >800</text>
<line x1="305.1" y1="64.75" x2="306.7" y2="64.75" stroke="#5a5a5a" stroke-width="0.9" />
<line x1="305.1" y1="51.7" x2="308.4" y2="51.7" stroke="#5a5a5a" stroke-width="0.9" />
<text transform="translate(301.5,54.4) scale(0.80,1)" font-size="7.5" text-anchor="end" font-family='"Liberation Sans", sans-serif' fill="#3c3c3c" font-weight="normal" >1000</text>
<line x1="305.1" y1="38.65" x2="306.7" y2="38.65" stroke="#5a5a5a" stroke-width="0.9" />
<line x1="305.1" y1="25.6" x2="308.4" y2="25.6" stroke="#5a5a5a" stroke-width="0.9" />
<text transform="translate(301.5,28.3) scale(0.80,1)" font-size="7.5" text-anchor="end" font-family='"Liberation Sans", sans-serif' fill="#3c3c3c" font-weight="normal" >1200</text>
<line x1="305.1" y1="12.55" x2="306.7" y2="12.55" stroke="#5a5a5a" stroke-width="0.9" />
<line x1="514.85" y1="182.2" x2="511.55" y2="182.2" stroke="#5a5a5a" stroke-width="0.9" />
<text transform="translate(519.35,184.9) scale(0.80,1)" font-size="7.5" text-anchor="start" font-family='"Liberation Sans", sans-serif' fill="#3c3c3c" font-weight="normal" >0</text>
<line x1="514.85" y1="165.27" x2="513.25" y2="165.27" stroke="#5a5a5a" stroke-width="0.9" />
<line x1="514.85" y1="148.35" x2="511.55" y2="148.35" stroke="#5a5a5a" stroke-width="0.9" />
<text transform="translate(519.35,151.05) scale(0.80,1)" font-size="7.5" text-anchor="start" font-family='"Liberation Sans", sans-serif' fill="#3c3c3c" font-weight="normal" >20</text>
<line x1="514.85" y1="131.42" x2="513.25" y2="131.42" stroke="#5a5a5a" stroke-width="0.9" />
<line x1="514.85" y1="114.5" x2="511.55" y2="114.5" stroke="#5a5a5a" stroke-width="0.9" />
<text transform="translate(519.35,117.2) scale(0.80,1)" font-size="7.5" text-anchor="start" font-family='"Liberation Sans", sans-serif' fill="#3c3c3c" font-weight="normal" >40</text>
<line x1="514.85" y1="97.57" x2="513.25" y2="97.57" stroke="#5a5a5a" stroke-width="0.9" />
<line x1="514.85" y1="80.65" x2="511.55" y2="80.65" stroke="#5a5a5a" stroke-width="0.9" />
<text transform="translate(519.35,83.35) scale(0.80,1)" font-size="7.5" text-anchor="start" font-family='"Liberation Sans", sans-serif' fill="#3c3c3c" font-weight="normal" >60</text>
<line x1="514.85" y1="63.72" x2="513.25" y2="63.72" stroke="#5a5a5a" stroke-width="0.9" />
<line x1="514.85" y1="46.8" x2="511.55" y2="46.8" stroke="#5a5a5a" stroke-width="0.9" />
<text transform="translate(519.35,49.5) scale(0.80,1)" font-size="7.5" text-anchor="start" font-family='"Liberation Sans", sans-serif' fill="#3c3c3c" font-weight="normal" >80</text>
<line x1="514.85" y1="29.87" x2="513.25" y2="29.87" stroke="#5a5a5a" stroke-width="0.9" />
<line x1="514.85" y1="12.95" x2="511.55" y2="12.95" stroke="#5a5a5a" stroke-width="0.9" />
<text transform="translate(519.35,15.65) scale(0.80,1)" font-size="7.5" text-anchor="start" font-family='"Liberation Sans", sans-serif' fill="#3c3c3c" font-weight="normal" >100</text>
<line x1="326.1" y1="182.2" x2="326.1" y2="178.9" stroke="#5a5a5a" stroke-width="0.9" />
<line x1="368.1" y1="182.2" x2="368.1" y2="178.9" stroke="#5a5a5a" stroke-width="0.9" />
<line x1="410" y1="182.2" x2="410" y2="178.9" stroke="#5a5a5a" stroke-width="0.9" />
<line x1="451.8" y1="182.2" x2="451.8" y2="178.9" stroke="#5a5a5a" stroke-width="0.9" />
<line x1="493.5" y1="182.2" x2="493.5" y2="178.9" stroke="#5a5a5a" stroke-width="0.9" />
<text transform="translate(329.8,192.4) scale(0.80,1)" font-size="8.62" text-anchor="middle" font-family='"Liberation Sans", sans-serif' fill="#3c3c3c" font-weight="normal" >Influent</text>
<text transform="translate(368.3,191.8) scale(0.80,1)" font-size="7.25" text-anchor="middle" font-family='"Liberation Sans", sans-serif' fill="#3c3c3c" font-weight="normal" >pH5</text>
<text transform="translate(410.2,191.8) scale(0.80,1)" font-size="7.25" text-anchor="middle" font-family='"Liberation Sans", sans-serif' fill="#3c3c3c" font-weight="normal" >pH6</text>
<text transform="translate(452,191.8) scale(0.80,1)" font-size="7.25" text-anchor="middle" font-family='"Liberation Sans", sans-serif' fill="#3c3c3c" font-weight="normal" >pH7</text>
<text transform="translate(493.7,191.8) scale(0.80,1)" font-size="7.25" text-anchor="middle" font-family='"Liberation Sans", sans-serif' fill="#3c3c3c" font-weight="normal" >pH8</text>
<polyline fill="none" stroke="#808080" stroke-width="0.65" points="326.1,182 368.1,74.6 410.1,79.1 451.8,79.1 493.5,79.9"/>
<clipPath id="hc6"><rect x="315.4" y="33.9" width="21.5" height="148.3"/></clipPath>
<rect x="315.4" y="33.9" width="21.5" height="148.3" fill="#ffdca3"/>
<path clip-path="url(#hc6)" d="M165.6 33.9L313.9 182.2M167.9 33.9L316.2 182.2M170.2 33.9L318.5 182.2M172.5 33.9L320.8 182.2M174.8 33.9L323.1 182.2M177.1 33.9L325.4 182.2M179.4 33.9L327.7 182.2M181.7 33.9L330 182.2M184 33.9L332.3 182.2M186.3 33.9L334.6 182.2M188.6 33.9L336.9 182.2M190.9 33.9L339.2 182.2M193.2 33.9L341.5 182.2M195.5 33.9L343.8 182.2M197.8 33.9L346.1 182.2M200.1 33.9L348.4 182.2M202.4 33.9L350.7 182.2M204.7 33.9L353 182.2M207 33.9L355.3 182.2M209.3 33.9L357.6 182.2M211.6 33.9L359.9 182.2M213.9 33.9L362.2 182.2M216.2 33.9L364.5 182.2M218.5 33.9L366.8 182.2M220.8 33.9L369.1 182.2M223.1 33.9L371.4 182.2M225.4 33.9L373.7 182.2M227.7 33.9L376 182.2M230 33.9L378.3 182.2M232.3 33.9L380.6 182.2M234.6 33.9L382.9 182.2M236.9 33.9L385.2 182.2M239.2 33.9L387.5 182.2M241.5 33.9L389.8 182.2M243.8 33.9L392.1 182.2M246.1 33.9L394.4 182.2M248.4 33.9L396.7 182.2M250.7 33.9L399 182.2M253 33.9L401.3 182.2M255.3 33.9L403.6 182.2M257.6 33.9L405.9 182.2M259.9 33.9L408.2 182.2M262.2 33.9L410.5 182.2M264.5 33.9L412.8 182.2M266.8 33.9L415.1 182.2M269.1 33.9L417.4 182.2M271.4 33.9L419.7 182.2M273.7 33.9L422 182.2M276 33.9L424.3 182.2M278.3 33.9L426.6 182.2M280.6 33.9L428.9 182.2M282.9 33.9L431.2 182.2M285.2 33.9L433.5 182.2M287.5 33.9L435.8 182.2M289.8 33.9L438.1 182.2M292.1 33.9L440.4 182.2M294.4 33.9L442.7 182.2M296.7 33.9L445 182.2M299 33.9L447.3 182.2M301.3 33.9L449.6 182.2M303.6 33.9L451.9 182.2M305.9 33.9L454.2 182.2M308.2 33.9L456.5 182.2M310.5 33.9L458.8 182.2M312.8 33.9L461.1 182.2M315.1 33.9L463.4 182.2M317.4 33.9L465.7 182.2M319.7 33.9L468 182.2M322 33.9L470.3 182.2M324.3 33.9L472.6 182.2M326.6 33.9L474.9 182.2M328.9 33.9L477.2 182.2M331.2 33.9L479.5 182.2M333.5 33.9L481.8 182.2M335.8 33.9L484.1 182.2M338.1 33.9L486.4 182.2" stroke="#64442a" stroke-width="0.71" fill="none"/>
<rect x="315.4" y="33.9" width="21.5" height="148.3" fill="none" stroke="#4e3c2a" stroke-width="0.6"/>
<polyline fill="none" stroke="#808080" stroke-width="0.65" opacity="0.35" points="326.1,182 337.2,153.6"/>
<rect x="366.4" y="72.9" width="3.4" height="3.4" fill="#fff" stroke="#666" stroke-width="0.6"/>
<rect x="408.4" y="77.4" width="3.4" height="3.4" fill="#fff" stroke="#666" stroke-width="0.6"/>
<rect x="450.1" y="77.4" width="3.4" height="3.4" fill="#fff" stroke="#666" stroke-width="0.6"/>
<rect x="491.8" y="78.2" width="3.4" height="3.4" fill="#fff" stroke="#666" stroke-width="0.6"/>
<rect x="435.4" y="15.4" width="73.6" height="20.8" fill="#fff" stroke="#555" stroke-width="0.8"/>
<clipPath id="hc7"><rect x="436.6" y="16.6" width="17.3" height="8.5"/></clipPath>
<rect x="436.6" y="16.6" width="17.3" height="8.5" fill="#ffdca3"/>
<path clip-path="url(#hc7)" d="M426 16.6L434.5 25.1M429 16.6L437.5 25.1M432 16.6L440.5 25.1M435 16.6L443.5 25.1M438 16.6L446.5 25.1M441 16.6L449.5 25.1M444 16.6L452.5 25.1M447 16.6L455.5 25.1M450 16.6L458.5 25.1M453 16.6L461.5 25.1M456 16.6L464.5 25.1" stroke="#64442a" stroke-width="0.9260869565217391" fill="none"/>
<rect x="436.6" y="16.6" width="17.3" height="8.5" fill="none" stroke="#4e3c2a" stroke-width="0.6"/>
<text x="478.3" y="22.2" font-size="9.4" text-anchor="middle" font-family='"Liberation Serif", serif' fill="#222" font-weight="normal" >Chroma</text>
<line x1="437" y1="29.8" x2="442" y2="29.8" stroke="#666" stroke-width="0.7" />
<line x1="449.3" y1="29.8" x2="454" y2="29.8" stroke="#666" stroke-width="0.7" />
<rect x="443.9" y="28.1" width="3.4" height="3.4" fill="#fff" stroke="#666" stroke-width="0.6"/>
<text x="478" y="34.1" font-size="9.6" text-anchor="middle" font-family='"Liberation Serif", serif' fill="#222" font-weight="normal" >CRE</text>
<text x="410.3" y="210.1" font-size="9.8" text-anchor="middle" font-family='"Liberation Serif", serif' fill="#222" font-weight="normal" >pH</text>
<text transform="translate(279.8,94.4) rotate(-90)" font-size="9.7" text-anchor="middle" font-family='"Liberation Serif", serif' fill="#222" font-weight="normal" >Chroma (Hazen)</text>
<text transform="translate(539.4,91.4) rotate(-90)" font-size="9.9" text-anchor="middle" font-family='"Liberation Serif", serif' fill="#222" font-weight="normal" stroke="#222" stroke-width="0.15">CRE&#160;&#160;(%)</text>
<text x="315" y="33.8" font-size="17.8" text-anchor="start" font-family='"Liberation Serif", serif' fill="#111" font-weight="normal" >b</text>
<clipPath id="hc8"><rect x="50.1" y="244.5" width="20.9" height="156.6"/></clipPath>
<rect x="50.1" y="244.5" width="20.9" height="156.6" fill="#10ea90"/>
<path clip-path="url(#hc8)" d="M-84 401.1L48.71 244.5M-81.6 401.1L51.11 244.5M-79.2 401.1L53.51 244.5M-76.8 401.1L55.91 244.5M-74.4 401.1L58.31 244.5M-72 401.1L60.71 244.5M-69.6 401.1L63.11 244.5M-67.2 401.1L65.51 244.5M-64.8 401.1L67.91 244.5M-62.4 401.1L70.31 244.5M-60 401.1L72.71 244.5M-57.6 401.1L75.11 244.5M-55.2 401.1L77.51 244.5M-52.8 401.1L79.91 244.5M-50.4 401.1L82.31 244.5M-48 401.1L84.71 244.5M-45.6 401.1L87.11 244.5M-43.2 401.1L89.51 244.5M-40.8 401.1L91.91 244.5M-38.4 401.1L94.31 244.5M-36 401.1L96.71 244.5M-33.6 401.1L99.11 244.5M-31.2 401.1L101.51 244.5M-28.8 401.1L103.91 244.5M-26.4 401.1L106.31 244.5M-24 401.1L108.71 244.5M-21.6 401.1L111.11 244.5M-19.2 401.1L113.51 244.5M-16.8 401.1L115.91 244.5M-14.4 401.1L118.31 244.5M-12 401.1L120.71 244.5M-9.6 401.1L123.11 244.5M-7.2 401.1L125.51 244.5M-4.8 401.1L127.91 244.5M-2.4 401.1L130.31 244.5M0 401.1L132.71 244.5M2.4 401.1L135.11 244.5M4.8 401.1L137.51 244.5M7.2 401.1L139.91 244.5M9.6 401.1L142.31 244.5M12 401.1L144.71 244.5M14.4 401.1L147.11 244.5M16.8 401.1L149.51 244.5M19.2 401.1L151.91 244.5M21.6 401.1L154.31 244.5M24 401.1L156.71 244.5M26.4 401.1L159.11 244.5M28.8 401.1L161.51 244.5M31.2 401.1L163.91 244.5M33.6 401.1L166.31 244.5M36 401.1L168.71 244.5M38.4 401.1L171.11 244.5M40.8 401.1L173.51 244.5M43.2 401.1L175.91 244.5M45.6 401.1L178.31 244.5M48 401.1L180.71 244.5M50.4 401.1L183.11 244.5M52.8 401.1L185.51 244.5M55.2 401.1L187.91 244.5M57.6 401.1L190.31 244.5M60 401.1L192.71 244.5M62.4 401.1L195.11 244.5M64.8 401.1L197.51 244.5M67.2 401.1L199.91 244.5M69.6 401.1L202.31 244.5M72 401.1L204.71 244.5" stroke="#06482c" stroke-width="0.8" fill="none"/>
<rect x="50.1" y="244.5" width="20.9" height="156.6" fill="none" stroke="#0b5a3a" stroke-width="0.6"/>
<clipPath id="hc9"><rect x="91.6" y="393.2" width="21.1" height="7.9"/></clipPath>
<rect x="91.6" y="393.2" width="21.1" height="7.9" fill="#10ea90"/>
<path clip-path="url(#hc9)" d="M84 401.1L90.69 393.2M86.4 401.1L93.09 393.2M88.8 401.1L95.49 393.2M91.2 401.1L97.89 393.2M93.6 401.1L100.29 393.2M96 401.1L102.69 393.2M98.4 401.1L105.09 393.2M100.8 401.1L107.49 393.2M103.2 401.1L109.89 393.2M105.6 401.1L112.29 393.2M108 401.1L114.69 393.2M110.4 401.1L117.09 393.2M112.8 401.1L119.49 393.2" stroke="#06482c" stroke-width="0.8" fill="none"/>
<rect x="91.6" y="393.2" width="21.1" height="7.9" fill="none" stroke="#0b5a3a" stroke-width="0.6"/>
<clipPath id="hc10"><rect x="134" y="392.1" width="21" height="9"/></clipPath>
<rect x="134" y="392.1" width="21" height="9" fill="#10ea90"/>
<path clip-path="url(#hc10)" d="M124.8 401.1L132.43 392.1M127.2 401.1L134.83 392.1M129.6 401.1L137.23 392.1M132 401.1L139.63 392.1M134.4 401.1L142.03 392.1M136.8 401.1L144.43 392.1M139.2 401.1L146.83 392.1M141.6 401.1L149.23 392.1M144 401.1L151.63 392.1M146.4 401.1L154.03 392.1M148.8 401.1L156.43 392.1M151.2 401.1L158.83 392.1M153.6 401.1L161.23 392.1M156 401.1L163.63 392.1" stroke="#06482c" stroke-width="0.8" fill="none"/>
<rect x="134" y="392.1" width="21" height="9" fill="none" stroke="#0b5a3a" stroke-width="0.6"/>
<clipPath id="hc11"><rect x="175.4" y="389.5" width="21.2" height="11.6"/></clipPath>
<rect x="175.4" y="389.5" width="21.2" height="11.6" fill="#10ea90"/>
<path clip-path="url(#hc11)" d="M163.2 401.1L173.03 389.5M165.6 401.1L175.43 389.5M168 401.1L177.83 389.5M170.4 401.1L180.23 389.5M172.8 401.1L182.63 389.5M175.2 401.1L185.03 389.5M177.6 401.1L187.43 389.5M180 401.1L189.83 389.5M182.4 401.1L192.23 389.5M184.8 401.1L194.63 389.5M187.2 401.1L197.03 389.5M189.6 401.1L199.43 389.5M192 401.1L201.83 389.5M194.4 401.1L204.23 389.5M196.8 401.1L206.63 389.5" stroke="#06482c" stroke-width="0.8" fill="none"/>
<rect x="175.4" y="389.5" width="21.2" height="11.6" fill="none" stroke="#0b5a3a" stroke-width="0.6"/>
<clipPath id="hc12"><rect x="217.5" y="382.4" width="21.3" height="18.7"/></clipPath>
<rect x="217.5" y="382.4" width="21.3" height="18.7" fill="#10ea90"/>
<path clip-path="url(#hc12)" d="M201.6 401.1L217.45 382.4M204 401.1L219.85 382.4M206.4 401.1L222.25 382.4M208.8 401.1L224.65 382.4M211.2 401.1L227.05 382.4M213.6 401.1L229.45 382.4M216 401.1L231.85 382.4M218.4 401.1L234.25 382.4M220.8 401.1L236.65 382.4M223.2 401.1L239.05 382.4M225.6 401.1L241.45 382.4M228 401.1L243.85 382.4M230.4 401.1L246.25 382.4M232.8 401.1L248.65 382.4M235.2 401.1L251.05 382.4M237.6 401.1L253.45 382.4M240 401.1L255.85 382.4" stroke="#06482c" stroke-width="0.8" fill="none"/>
<rect x="217.5" y="382.4" width="21.3" height="18.7" fill="none" stroke="#0b5a3a" stroke-width="0.6"/>
<rect x="39.65" y="231.5" width="209.35" height="169.6" fill="none" stroke="#707070" stroke-width="1.15"/>
<line x1="39.65" y1="401.1" x2="42.95" y2="401.1" stroke="#5a5a5a" stroke-width="0.9" />
<text transform="translate(35.05,403.8) scale(0.80,1)" font-size="7.5" text-anchor="end" font-family='"Liberation Sans", sans-serif' fill="#3c3c3c" font-weight="normal" >0</text>
<line x1="39.65" y1="392.16" x2="41.25" y2="392.16" stroke="#5a5a5a" stroke-width="0.9" />
<line x1="39.65" y1="383.21" x2="42.95" y2="383.21" stroke="#5a5a5a" stroke-width="0.9" />
<text transform="translate(35.05,385.91) scale(0.80,1)" font-size="7.5" text-anchor="end" font-family='"Liberation Sans", sans-serif' fill="#3c3c3c" font-weight="normal" >20</text>
<line x1="39.65" y1="374.27" x2="41.25" y2="374.27" stroke="#5a5a5a" stroke-width="0.9" />
<line x1="39.65" y1="365.32" x2="42.95" y2="365.32" stroke="#5a5a5a" stroke-width="0.9" />
<text transform="translate(35.05,368.02) scale(0.80,1)" font-size="7.5" text-anchor="end" font-family='"Liberation Sans", sans-serif' fill="#3c3c3c" font-weight="normal" >40</text>
<line x1="39.65" y1="356.38" x2="41.25" y2="356.38" stroke="#5a5a5a" stroke-width="0.9" />
<line x1="39.65" y1="347.43" x2="42.95" y2="347.43" stroke="#5a5a5a" stroke-width="0.9" />
<text transform="translate(35.05,350.13) scale(0.80,1)" font-size="7.5" text-anchor="end" font-family='"Liberation Sans", sans-serif' fill="#3c3c3c" font-weight="normal" >60</text>
<line x1="39.65" y1="338.49" x2="41.25" y2="338.49" stroke="#5a5a5a" stroke-width="0.9" />
<line x1="39.65" y1="329.54" x2="42.95" y2="329.54" stroke="#5a5a5a" stroke-width="0.9" />
<text transform="translate(35.05,332.24) scale(0.80,1)" font-size="7.5" text-anchor="end" font-family='"Liberation Sans", sans-serif' fill="#3c3c3c" font-weight="normal" >80</text>
<line x1="39.65" y1="320.6" x2="41.25" y2="320.6" stroke="#5a5a5a" stroke-width="0.9" />
<line x1="39.65" y1="311.65" x2="42.95" y2="311.65" stroke="#5a5a5a" stroke-width="0.9" />
<text transform="translate(35.05,314.35) scale(0.80,1)" font-size="7.5" text-anchor="end" font-family='"Liberation Sans", sans-serif' fill="#3c3c3c" font-weight="normal" >100</text>
<line x1="39.65" y1="302.71" x2="41.25" y2="302.71" stroke="#5a5a5a" stroke-width="0.9" />
<line x1="39.65" y1="293.76" x2="42.95" y2="293.76" stroke="#5a5a5a" stroke-width="0.9" />
<text transform="translate(35.05,296.46) scale(0.80,1)" font-size="7.5" text-anchor="end" font-family='"Liberation Sans", sans-serif' fill="#3c3c3c" font-weight="normal" >120</text>
<line x1="39.65" y1="284.81" x2="41.25" y2="284.81" stroke="#5a5a5a" stroke-width="0.9" />
<line x1="39.65" y1="275.87" x2="42.95" y2="275.87" stroke="#5a5a5a" stroke-width="0.9" />
<text transform="translate(35.05,278.57) scale(0.80,1)" font-size="7.5" text-anchor="end" font-family='"Liberation Sans", sans-serif' fill="#3c3c3c" font-weight="normal" >140</text>
<line x1="39.65" y1="266.93" x2="41.25" y2="266.93" stroke="#5a5a5a" stroke-width="0.9" />
<line x1="39.65" y1="257.98" x2="42.95" y2="257.98" stroke="#5a5a5a" stroke-width="0.9" />
<text transform="translate(35.05,260.68) scale(0.80,1)" font-size="7.5" text-anchor="end" font-family='"Liberation Sans", sans-serif' fill="#3c3c3c" font-weight="normal" >160</text>
<line x1="39.65" y1="249.04" x2="41.25" y2="249.04" stroke="#5a5a5a" stroke-width="0.9" />
<line x1="39.65" y1="240.09" x2="42.95" y2="240.09" stroke="#5a5a5a" stroke-width="0.9" />
<text transform="translate(35.05,242.79) scale(0.80,1)" font-size="7.5" text-anchor="end" font-family='"Liberation Sans", sans-serif' fill="#3c3c3c" font-weight="normal" >180</text>
<line x1="249" y1="401.1" x2="245.7" y2="401.1" stroke="#5a5a5a" stroke-width="0.9" />
<text transform="translate(253.5,403.8) scale(0.80,1)" font-size="7.5" text-anchor="start" font-family='"Liberation Sans", sans-serif' fill="#3c3c3c" font-weight="normal" >0</text>
<line x1="249" y1="384.14" x2="247.4" y2="384.14" stroke="#5a5a5a" stroke-width="0.9" />
<line x1="249" y1="367.18" x2="245.7" y2="367.18" stroke="#5a5a5a" stroke-width="0.9" />
<text transform="translate(253.5,369.88) scale(0.80,1)" font-size="7.5" text-anchor="start" font-family='"Liberation Sans", sans-serif' fill="#3c3c3c" font-weight="normal" >20</text>
<line x1="249" y1="350.22" x2="247.4" y2="350.22" stroke="#5a5a5a" stroke-width="0.9" />
<line x1="249" y1="333.26" x2="245.7" y2="333.26" stroke="#5a5a5a" stroke-width="0.9" />
<text transform="translate(253.5,335.96) scale(0.80,1)" font-size="7.5" text-anchor="start" font-family='"Liberation Sans", sans-serif' fill="#3c3c3c" font-weight="normal" >40</text>
<line x1="249" y1="316.3" x2="247.4" y2="316.3" stroke="#5a5a5a" stroke-width="0.9" />
<line x1="249" y1="299.34" x2="245.7" y2="299.34" stroke="#5a5a5a" stroke-width="0.9" />
<text transform="translate(253.5,302.04) scale(0.80,1)" font-size="7.5" text-anchor="start" font-family='"Liberation Sans", sans-serif' fill="#3c3c3c" font-weight="normal" >60</text>
<line x1="249" y1="282.38" x2="247.4" y2="282.38" stroke="#5a5a5a" stroke-width="0.9" />
<line x1="249" y1="265.42" x2="245.7" y2="265.42" stroke="#5a5a5a" stroke-width="0.9" />
<text transform="translate(253.5,268.12) scale(0.80,1)" font-size="7.5" text-anchor="start" font-family='"Liberation Sans", sans-serif' fill="#3c3c3c" font-weight="normal" >80</text>
<line x1="249" y1="248.46" x2="247.4" y2="248.46" stroke="#5a5a5a" stroke-width="0.9" />
<line x1="249" y1="231.5" x2="245.7" y2="231.5" stroke="#5a5a5a" stroke-width="0.9" />
<text transform="translate(253.5,234.2) scale(0.80,1)" font-size="7.5" text-anchor="start" font-family='"Liberation Sans", sans-serif' fill="#3c3c3c" font-weight="normal" >100</text>
<line x1="60.6" y1="401.1" x2="60.6" y2="397.8" stroke="#5a5a5a" stroke-width="0.9" />
<line x1="102.3" y1="401.1" x2="102.3" y2="397.8" stroke="#5a5a5a" stroke-width="0.9" />
<line x1="144.5" y1="401.1" x2="144.5" y2="397.8" stroke="#5a5a5a" stroke-width="0.9" />
<line x1="186.2" y1="401.1" x2="186.2" y2="397.8" stroke="#5a5a5a" stroke-width="0.9" />
<line x1="228.3" y1="401.1" x2="228.3" y2="397.8" stroke="#5a5a5a" stroke-width="0.9" />
<text transform="translate(58.5,411.8) scale(0.80,1)" font-size="8.62" text-anchor="middle" font-family='"Liberation Sans", sans-serif' fill="#3c3c3c" font-weight="normal" >Influent</text>
<text transform="translate(102.2,411.2) scale(0.80,1)" font-size="7.25" text-anchor="middle" font-family='"Liberation Sans", sans-serif' fill="#3c3c3c" font-weight="normal" >pH5</text>
<text transform="translate(144.4,411.2) scale(0.80,1)" font-size="7.25" text-anchor="middle" font-family='"Liberation Sans", sans-serif' fill="#3c3c3c" font-weight="normal" >pH6</text>
<text transform="translate(186.1,411.2) scale(0.80,1)" font-size="7.25" text-anchor="middle" font-family='"Liberation Sans", sans-serif' fill="#3c3c3c" font-weight="normal" >pH7</text>
<text transform="translate(228.2,411.2) scale(0.80,1)" font-size="7.25" text-anchor="middle" font-family='"Liberation Sans", sans-serif' fill="#3c3c3c" font-weight="normal" >pH8</text>
<polyline fill="none" stroke="#808080" stroke-width="0.65" points="60.6,401.3 102.3,239.6 144.5,240.4 186.2,243.6 228.3,251"/>
<clipPath id="hc13"><rect x="50.1" y="244.5" width="20.9" height="156.6"/></clipPath>
<rect x="50.1" y="244.5" width="20.9" height="156.6" fill="#10ea90"/>
<path clip-path="url(#hc13)" d="M-84 401.1L48.71 244.5M-81.6 401.1L51.11 244.5M-79.2 401.1L53.51 244.5M-76.8 401.1L55.91 244.5M-74.4 401.1L58.31 244.5M-72 401.1L60.71 244.5M-69.6 401.1L63.11 244.5M-67.2 401.1L65.51 244.5M-64.8 401.1L67.91 244.5M-62.4 401.1L70.31 244.5M-60 401.1L72.71 244.5M-57.6 401.1L75.11 244.5M-55.2 401.1L77.51 244.5M-52.8 401.1L79.91 244.5M-50.4 401.1L82.31 244.5M-48 401.1L84.71 244.5M-45.6 401.1L87.11 244.5M-43.2 401.1L89.51 244.5M-40.8 401.1L91.91 244.5M-38.4 401.1L94.31 244.5M-36 401.1L96.71 244.5M-33.6 401.1L99.11 244.5M-31.2 401.1L101.51 244.5M-28.8 401.1L103.91 244.5M-26.4 401.1L106.31 244.5M-24 401.1L108.71 244.5M-21.6 401.1L111.11 244.5M-19.2 401.1L113.51 244.5M-16.8 401.1L115.91 244.5M-14.4 401.1L118.31 244.5M-12 401.1L120.71 244.5M-9.6 401.1L123.11 244.5M-7.2 401.1L125.51 244.5M-4.8 401.1L127.91 244.5M-2.4 401.1L130.31 244.5M0 401.1L132.71 244.5M2.4 401.1L135.11 244.5M4.8 401.1L137.51 244.5M7.2 401.1L139.91 244.5M9.6 401.1L142.31 244.5M12 401.1L144.71 244.5M14.4 401.1L147.11 244.5M16.8 401.1L149.51 244.5M19.2 401.1L151.91 244.5M21.6 401.1L154.31 244.5M24 401.1L156.71 244.5M26.4 401.1L159.11 244.5M28.8 401.1L161.51 244.5M31.2 401.1L163.91 244.5M33.6 401.1L166.31 244.5M36 401.1L168.71 244.5M38.4 401.1L171.11 244.5M40.8 401.1L173.51 244.5M43.2 401.1L175.91 244.5M45.6 401.1L178.31 244.5M48 401.1L180.71 244.5M50.4 401.1L183.11 244.5M52.8 401.1L185.51 244.5M55.2 401.1L187.91 244.5M57.6 401.1L190.31 244.5M60 401.1L192.71 244.5M62.4 401.1L195.11 244.5M64.8 401.1L197.51 244.5M67.2 401.1L199.91 244.5M69.6 401.1L202.31 244.5M72 401.1L204.71 244.5" stroke="#06482c" stroke-width="0.8" fill="none"/>
<rect x="50.1" y="244.5" width="20.9" height="156.6" fill="none" stroke="#0b5a3a" stroke-width="0.6"/>
<polyline fill="none" stroke="#b0b0b0" stroke-width="0.65" opacity="0.4" points="60.6,401.3 71.2,360.2"/>
<path d="M99.8 241.4L104.8 241.4L102.3 236.9Z" fill="#fff" stroke="#666" stroke-width="0.6"/>
<path d="M142 242.2L147 242.2L144.5 237.7Z" fill="#fff" stroke="#666" stroke-width="0.6"/>
<path d="M183.7 245.4L188.7 245.4L186.2 240.9Z" fill="#fff" stroke="#666" stroke-width="0.6"/>
<path d="M225.8 252.8L230.8 252.8L228.3 248.3Z" fill="#fff" stroke="#666" stroke-width="0.6"/>
<rect x="168.5" y="259.4" width="72.5" height="21.7" fill="#fff" stroke="#555" stroke-width="0.8"/>
<clipPath id="hc14"><rect x="169.5" y="261" width="17.7" height="8.6"/></clipPath>
<rect x="169.5" y="261" width="17.7" height="8.6" fill="#10ea90"/>
<path clip-path="url(#hc14)" d="M160 269.6L167.29 261M163.2 269.6L170.49 261M166.4 269.6L173.69 261M169.6 269.6L176.89 261M172.8 269.6L180.09 261M176 269.6L183.29 261M179.2 269.6L186.49 261M182.4 269.6L189.69 261M185.6 269.6L192.89 261M188.8 269.6L196.09 261" stroke="#06482c" stroke-width="1.0666666666666669" fill="none"/>
<rect x="169.5" y="261" width="17.7" height="8.6" fill="none" stroke="#0b5a3a" stroke-width="0.6"/>
<text x="214.6" y="268.3" font-size="9.35" text-anchor="middle" font-family='"Liberation Serif", serif' fill="#222" font-weight="normal" >Turbidity</text>
<line x1="170" y1="275.5" x2="174.5" y2="275.5" stroke="#666" stroke-width="0.7" />
<line x1="182.5" y1="275.5" x2="187" y2="275.5" stroke="#666" stroke-width="0.7" />
<path d="M175.8 277.6L181.2 277.6L178.5 273.0Z" fill="#fff" stroke="#666" stroke-width="0.6"/>
<text x="214.6" y="279.8" font-size="9.2" text-anchor="middle" font-family='"Liberation Serif", serif' fill="#222" font-weight="normal" >TRE</text>
<circle cx="238.9" cy="275.5" r="0.8" fill="#8fa0e0"/>
<text x="144.6" y="424.9" font-size="9.7" text-anchor="middle" font-family='"Liberation Serif", serif' fill="#222" font-weight="normal" stroke="#222" stroke-width="0.25">pH</text>
<text transform="translate(17.4,312) rotate(-90)" font-size="9.7" text-anchor="middle" font-family='"Liberation Serif", serif' fill="#222" font-weight="normal" >Turbidity (NTU)</text>
<text transform="translate(272.2,311) rotate(-90)" font-size="9.9" text-anchor="middle" font-family='"Liberation Serif", serif' fill="#222" font-weight="normal" >TRE&#160;&#160;(%)</text>
<text x="49.9" y="243" font-size="16.2" text-anchor="start" font-family='"Liberation Serif", serif' fill="#111" font-weight="bold" >c</text>
<rect x="318.4" y="260.5" width="27.1" height="140.7" fill="#f3ee9b" stroke="#77756a" stroke-width="0.8"/>
<rect x="371" y="254.4" width="26.3" height="146.8" fill="#f3ee9b" stroke="#77756a" stroke-width="0.8"/>
<rect x="424" y="267.9" width="26.5" height="133.3" fill="#f3ee9b" stroke="#77756a" stroke-width="0.8"/>
<rect x="476.4" y="258.4" width="26.7" height="142.8" fill="#f3ee9b" stroke="#77756a" stroke-width="0.8"/>
<rect x="305.6" y="231.6" width="210.4" height="169.6" fill="none" stroke="#707070" stroke-width="1.15"/>
<line x1="305.6" y1="401.2" x2="308.9" y2="401.2" stroke="#5a5a5a" stroke-width="0.9" />
<text transform="translate(302.6,403.9) scale(0.80,1)" font-size="7.5" text-anchor="end" font-family='"Liberation Sans", sans-serif' fill="#3c3c3c" font-weight="normal" >0</text>
<line x1="305.6" y1="389.08" x2="307.2" y2="389.08" stroke="#5a5a5a" stroke-width="0.9" />
<line x1="305.6" y1="376.97" x2="308.9" y2="376.97" stroke="#5a5a5a" stroke-width="0.9" />
<text transform="translate(302.6,379.67) scale(0.80,1)" font-size="7.5" text-anchor="end" font-family='"Liberation Sans", sans-serif' fill="#3c3c3c" font-weight="normal" >10</text>
<line x1="305.6" y1="364.85" x2="307.2" y2="364.85" stroke="#5a5a5a" stroke-width="0.9" />
<line x1="305.6" y1="352.74" x2="308.9" y2="352.74" stroke="#5a5a5a" stroke-width="0.9" />
<text transform="translate(302.6,355.44) scale(0.80,1)" font-size="7.5" text-anchor="end" font-family='"Liberation Sans", sans-serif' fill="#3c3c3c" font-weight="normal" >20</text>
<line x1="305.6" y1="340.62" x2="307.2" y2="340.62" stroke="#5a5a5a" stroke-width="0.9" />
<line x1="305.6" y1="328.51" x2="308.9" y2="328.51" stroke="#5a5a5a" stroke-width="0.9" />
<text transform="translate(302.6,331.21) scale(0.80,1)" font-size="7.5" text-anchor="end" font-family='"Liberation Sans", sans-serif' fill="#3c3c3c" font-weight="normal" >30</text>
<line x1="305.6" y1="316.39" x2="307.2" y2="316.39" stroke="#5a5a5a" stroke-width="0.9" />
<line x1="305.6" y1="304.28" x2="308.9" y2="304.28" stroke="#5a5a5a" stroke-width="0.9" />
<text transform="translate(302.6,306.98) scale(0.80,1)" font-size="7.5" text-anchor="end" font-family='"Liberation Sans", sans-serif' fill="#3c3c3c" font-weight="normal" >40</text>
<line x1="305.6" y1="292.16" x2="307.2" y2="292.16" stroke="#5a5a5a" stroke-width="0.9" />
<line x1="305.6" y1="280.05" x2="308.9" y2="280.05" stroke="#5a5a5a" stroke-width="0.9" />
<text transform="translate(302.6,282.75) scale(0.80,1)" font-size="7.5" text-anchor="end" font-family='"Liberation Sans", sans-serif' fill="#3c3c3c" font-weight="normal" >50</text>
<line x1="305.6" y1="267.93" x2="307.2" y2="267.93" stroke="#5a5a5a" stroke-width="0.9" />
<line x1="305.6" y1="255.82" x2="308.9" y2="255.82" stroke="#5a5a5a" stroke-width="0.9" />
<text transform="translate(302.6,258.52) scale(0.80,1)" font-size="7.5" text-anchor="end" font-family='"Liberation Sans", sans-serif' fill="#3c3c3c" font-weight="normal" >60</text>
<line x1="305.6" y1="243.7" x2="307.2" y2="243.7" stroke="#5a5a5a" stroke-width="0.9" />
<line x1="305.6" y1="231.59" x2="308.9" y2="231.59" stroke="#5a5a5a" stroke-width="0.9" />
<text transform="translate(302.6,234.29) scale(0.80,1)" font-size="7.5" text-anchor="end" font-family='"Liberation Sans", sans-serif' fill="#3c3c3c" font-weight="normal" >70</text>
<line x1="516" y1="401.2" x2="512.7" y2="401.2" stroke="#5a5a5a" stroke-width="0.9" />
<text transform="translate(520.5,403.9) scale(0.80,1)" font-size="7.5" text-anchor="start" font-family='"Liberation Sans", sans-serif' fill="#3c3c3c" font-weight="normal" >88</text>
<line x1="516" y1="384.24" x2="514.4" y2="384.24" stroke="#5a5a5a" stroke-width="0.9" />
<line x1="516" y1="367.28" x2="512.7" y2="367.28" stroke="#5a5a5a" stroke-width="0.9" />
<text transform="translate(520.5,369.98) scale(0.80,1)" font-size="7.5" text-anchor="start" font-family='"Liberation Sans", sans-serif' fill="#3c3c3c" font-weight="normal" >89</text>
<line x1="516" y1="350.32" x2="514.4" y2="350.32" stroke="#5a5a5a" stroke-width="0.9" />
<line x1="516" y1="333.36" x2="512.7" y2="333.36" stroke="#5a5a5a" stroke-width="0.9" />
<text transform="translate(520.5,336.06) scale(0.80,1)" font-size="7.5" text-anchor="start" font-family='"Liberation Sans", sans-serif' fill="#3c3c3c" font-weight="normal" >90</text>
<line x1="516" y1="316.4" x2="514.4" y2="316.4" stroke="#5a5a5a" stroke-width="0.9" />
<line x1="516" y1="299.44" x2="512.7" y2="299.44" stroke="#5a5a5a" stroke-width="0.9" />
<text transform="translate(520.5,302.14) scale(0.80,1)" font-size="7.5" text-anchor="start" font-family='"Liberation Sans", sans-serif' fill="#3c3c3c" font-weight="normal" >91</text>
<line x1="516" y1="282.48" x2="514.4" y2="282.48" stroke="#5a5a5a" stroke-width="0.9" />
<line x1="516" y1="265.52" x2="512.7" y2="265.52" stroke="#5a5a5a" stroke-width="0.9" />
<text transform="translate(520.5,268.22) scale(0.80,1)" font-size="7.5" text-anchor="start" font-family='"Liberation Sans", sans-serif' fill="#3c3c3c" font-weight="normal" >92</text>
<line x1="516" y1="248.56" x2="514.4" y2="248.56" stroke="#5a5a5a" stroke-width="0.9" />
<line x1="516" y1="231.6" x2="512.7" y2="231.6" stroke="#5a5a5a" stroke-width="0.9" />
<text transform="translate(520.5,234.3) scale(0.80,1)" font-size="7.5" text-anchor="start" font-family='"Liberation Sans", sans-serif' fill="#3c3c3c" font-weight="normal" >93</text>
<line x1="331.8" y1="401.2" x2="331.8" y2="397.9" stroke="#5a5a5a" stroke-width="0.9" />
<text transform="translate(331.3,410.9) scale(0.80,1)" font-size="7.5" text-anchor="middle" font-family='"Liberation Sans", sans-serif' fill="#3c3c3c" font-weight="normal" >5</text>
<line x1="384.1" y1="401.2" x2="384.1" y2="397.9" stroke="#5a5a5a" stroke-width="0.9" />
<text transform="translate(383.6,410.9) scale(0.80,1)" font-size="7.5" text-anchor="middle" font-family='"Liberation Sans", sans-serif' fill="#3c3c3c" font-weight="normal" >6</text>
<line x1="437.3" y1="401.2" x2="437.3" y2="397.9" stroke="#5a5a5a" stroke-width="0.9" />
<text transform="translate(436.8,410.9) scale(0.80,1)" font-size="7.5" text-anchor="middle" font-family='"Liberation Sans", sans-serif' fill="#3c3c3c" font-weight="normal" >7</text>
<line x1="489.5" y1="401.2" x2="489.5" y2="397.9" stroke="#5a5a5a" stroke-width="0.9" />
<text transform="translate(489,410.9) scale(0.80,1)" font-size="7.5" text-anchor="middle" font-family='"Liberation Sans", sans-serif' fill="#3c3c3c" font-weight="normal" >8</text>
<polyline fill="none" stroke="#555" stroke-width="0.7" points="331.8,308.8 384,314.2 437.4,334.4 489.4,353.5"/>
<polyline fill="none" stroke="#555" stroke-width="0.7" points="331.8,265.1 384,269.7 437.4,290.8 489.4,294.6"/>
<rect x="329.9" y="306.9" width="3.8" height="3.8" fill="#0000ff"/>
<rect x="382.1" y="312.3" width="3.8" height="3.8" fill="#0000ff"/>
<rect x="435.5" y="332.5" width="3.8" height="3.8" fill="#0000ff"/>
<rect x="487.5" y="351.6" width="3.8" height="3.8" fill="#0000ff"/>
<circle cx="331.8" cy="265.1" r="2.1" fill="#ff0000"/>
<circle cx="384" cy="269.7" r="2.1" fill="#ff0000"/>
<circle cx="437.4" cy="290.8" r="2.1" fill="#ff0000"/>
<circle cx="489.4" cy="294.6" r="2.1" fill="#ff0000"/>
<rect x="401.6" y="233" width="72.1" height="26.9" fill="#fff" stroke="#8a8a8a" stroke-width="0.7"/>
<rect x="402.3" y="234.7" width="15.4" height="6.2" fill="#f3ee9b" stroke="#77756a" stroke-width="0.7"/>
<text x="437.8" y="237.2" font-size="9.6" text-anchor="middle" font-family='"Liberation Serif", serif' fill="#222" font-weight="normal" >PRE</text>
<line x1="401.8" y1="246.9" x2="417.7" y2="246.9" stroke="#999" stroke-width="0.8" />
<rect x="406.6" y="245.4" width="6.2" height="3" fill="#fff"/><rect x="407.9" y="245.1" width="3.6" height="3.6" fill="#0000ff"/>
<text x="438" y="248.9" font-size="9.6" text-anchor="middle" font-family='"Liberation Serif", serif' fill="#222" font-weight="normal" >SRE</text>
<line x1="401.8" y1="255.5" x2="417.7" y2="255.5" stroke="#999" stroke-width="0.8" />
<rect x="406.4" y="254" width="6.2" height="3" fill="#fff"/><circle cx="409.5" cy="255.5" r="2" fill="#ff0000"/>
<text x="438.2" y="260.3" font-size="9.6" text-anchor="middle" font-family='"Liberation Serif", serif' fill="#222" font-weight="normal" >LRE</text>
<text x="419.4" y="424.9" font-size="9.8" text-anchor="middle" font-family='"Liberation Serif", serif' fill="#222" font-weight="normal" >pH</text>
<text transform="translate(288.8,308) rotate(-90)" font-size="9.6" text-anchor="middle" font-family='"Liberation Serif", serif' fill="#222" font-weight="normal" >PRE/SRE&#160;&#160;(%)</text>
<text transform="translate(539.6,312) rotate(-90)" font-size="10.3" text-anchor="middle" font-family='"Liberation Serif", serif' fill="#222" font-weight="normal" stroke="#222" stroke-width="0.15">LRE&#160;&#160;(%)</text>
<text x="315.4" y="247.2" font-size="18.5" text-anchor="start" font-family='"Liberation Serif", serif' fill="#111" font-weight="normal" >d</text>
</svg></body></html>
